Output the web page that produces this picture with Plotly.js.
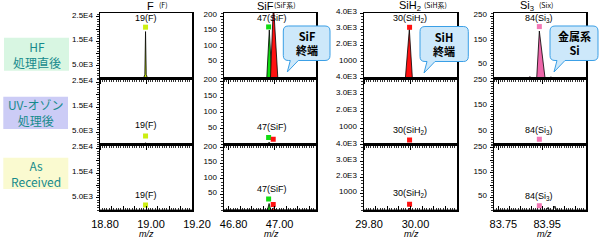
<!DOCTYPE html>
<html><head><meta charset="utf-8">
<script src="https://cdn.plot.ly/plotly-3.0.1.min.js"></script>
<style>html,body{margin:0;padding:0;background:#fff}#chart{width:600px;height:240px}</style>
</head><body><div id="chart"></div>
<script>
// ---------- data ----------
const rowLabels = ['HF<br>処理直後', 'UV-オゾン<br>処理後', 'As<br>Received'];
const rowColors = ['#d8f6e2', '#ccccf6', '#fafad0'];
const colTitles = ['F', 'SiF', 'SiH<sub>2</sub>', 'Si<sub>3</sub>'];
const colSubTitles = ['(F)', '(SiF系)', '(SiH系)', '(Six)'];
const peakLabels = ['19(F)', '47(SiF)', '30(SiH<sub>2</sub>)', '84(Si<sub>3</sub>)'];
const peakLabelX = [18.998, 46.987, 29.998, 83.937];
const xRanges = [[18.80, 19.20], [46.78, 47.18], [29.80, 30.20], [83.73, 84.15]];
const xLabelVals = [[18.80, 19.00, 19.20], [46.80, 47.00], [29.80, 30.00], [83.75, 83.95]];
const xLabelText = [['18.80', '19.00', '19.20'], ['46.80', '47.00'], ['29.80', '30.00'], ['83.75', '83.95']];
const yRanges = [[0, 26600], [0, 210], [0, 4000], [0, 263]];
const yLabelVals = [[5000, 15000, 25000], [50, 100, 150, 200], [1000, 2000, 3000, 4000], [50, 150, 250]];
const yLabelText = [['5.0E3', '1.5E4', '2.5E4'], ['50', '100', '150', '200'], ['1000', '2.0E3', '3.0E3', '4.0E3'], ['50', '150', '250']];
const callouts = ['SiF<br>終端', 'SiH<br>終端', '金属系<br>Si'];

// spectra (row: hf / uv / ar)
const F_hf_x = [18.80, 18.990, 18.995, 18.998, 19.001, 19.006, 19.20];
const F_hf_y = [0, 0, 1500, 19000, 1500, 0, 0];
const F_uv_x = [18.80, 18.993, 18.998, 19.003, 19.20];
const F_uv_y = [0, 0, 800, 0, 0];
const F_ar_x = [18.80, 19.20];
const F_ar_y = [0, 0];

const SiF_hf_g_x = [46.78, 46.966, 46.977, 46.988, 47.18];
const SiF_hf_g_y = [0, 0, 155, 0, 0];
const SiF_hf_r_x = [46.78, 46.982, 46.995, 47.014, 47.18];
const SiF_hf_r_y = [0, 0, 240, 0, 0];
const SiF_uv_g_x = [46.78, 46.970, 46.976, 46.982, 47.18];
const SiF_uv_g_y = [0, 0, 8, 0, 0];
const SiF_uv_r_x = [46.78, 46.988, 46.995, 47.004, 47.18];
const SiF_uv_r_y = [0, 0, 3, 0, 0];
const SiF_ar_g_x = [46.78, 46.969, 46.976, 46.983, 47.18];
const SiF_ar_g_y = [0, 0, 21, 0, 0];
const SiF_ar_r_x = [46.78, 46.986, 46.995, 47.006, 47.18];
const SiF_ar_r_y = [0, 0, 6, 0, 0];

const SiH_hf_x = [29.80, 29.978, 29.995, 30.008, 30.20];
const SiH_hf_y = [0, 0, 3000, 0, 0];
const SiH_uv_x = [29.80, 30.20];
const SiH_uv_y = [0, 0];
const SiH_ar_x = [29.80, 29.992, 29.997, 30.002, 30.20];
const SiH_ar_y = [0, 0, 120, 0, 0];

const Si3_hf_x = [83.73, 83.888, 83.894, 83.900, 83.925, 83.937, 83.963, 83.985, 83.990, 83.995, 84.15];
const Si3_hf_y = [0, 0, 6, 0, 0, 190, 0, 0, 5, 0, 0];
const Si3_uv_x = [83.73, 84.15];
const Si3_uv_y = [0, 0];
const Si3_ar_x = [83.73, 83.971, 83.977, 83.983, 84.000, 84.008, 84.016, 84.15];
const Si3_ar_y = [0, 0, 11, 0, 0, 16, 0, 0];

// reference markers above peaks
const F_mk_x = [18.998], F_mk_y = [20800, 3480, 2040];
const SiF_mk_g_x = [46.974], SiF_mk_g_y = [165, 23, 35];
const SiF_mk_r_x = [46.994], SiF_mk_r_y = [null, 17, 18];
const SiH_mk_x = [29.996], SiH_mk_y = [3120, 280, 350];
const Si3_mk_x = [83.937], Si3_mk_y = [208, 21, 17];

// ---------- layout helpers ----------
const W = 600, H = 240;
const PX = x => x / W, PY = y => 1 - y / H;
const colX = [[100, 192], [224, 316], [364, 457], [494, 586]];
const rowY = [[13, 78], [78, 144.7], [144.7, 210]];
const COL = {yg: '#ccee11', green: '#11dd11', red: '#ff1111', pink: '#f277b4', pinkFill: '#ee66aa'};

const spectra = [
  [[{x: F_hf_x, y: F_hf_y, fill: COL.yg}], [{x: SiF_hf_g_x, y: SiF_hf_g_y, fill: COL.green}, {x: SiF_hf_r_x, y: SiF_hf_r_y, fill: COL.red}], [{x: SiH_hf_x, y: SiH_hf_y, fill: COL.red}], [{x: Si3_hf_x, y: Si3_hf_y, fill: COL.pinkFill}]],
  [[{x: F_uv_x, y: F_uv_y, fill: COL.yg}], [{x: SiF_uv_g_x, y: SiF_uv_g_y, fill: COL.green}, {x: SiF_uv_r_x, y: SiF_uv_r_y, fill: COL.red}], [{x: SiH_uv_x, y: SiH_uv_y, fill: COL.red}], [{x: Si3_uv_x, y: Si3_uv_y, fill: COL.pinkFill}]],
  [[{x: F_ar_x, y: F_ar_y, fill: COL.yg}], [{x: SiF_ar_g_x, y: SiF_ar_g_y, fill: COL.green}, {x: SiF_ar_r_x, y: SiF_ar_r_y, fill: COL.red}], [{x: SiH_ar_x, y: SiH_ar_y, fill: COL.red}], [{x: Si3_ar_x, y: Si3_ar_y, fill: null}]]
];
const markerSets = [
  [{x: F_mk_x, y: F_mk_y, c: COL.yg}],
  [{x: SiF_mk_g_x, y: SiF_mk_g_y, c: COL.green}, {x: SiF_mk_r_x, y: SiF_mk_r_y, c: COL.red}],
  [{x: SiH_mk_x, y: SiH_mk_y, c: COL.red}],
  [{x: Si3_mk_x, y: Si3_mk_y, c: COL.pink}]
];
const xMajorStep = 0.05, xMinor = 0.01;
const yMajorStep = [5000, 50, 1000, 50], yMinor = [1000, 10, 200, 10];
const labelRowY = [[18.3, 18.3, 18.3, 19], [125, 127.3, 130.7, 130.7], [195, 189, 193.3, 196]];

function steps(lo, hi, st) {
  const out = []; const s = Math.ceil(lo / st - 1e-6);
  for (let k = s; k * st <= hi + 1e-9; k++) out.push(+(k * st).toFixed(4));
  return out;
}
function textFor(vals, lv, lt) {
  return vals.map(v => { const j = lv.findIndex(u => Math.abs(u - v) < 1e-6); return j >= 0 ? lt[j] : ''; });
}

const data = [];
const layout = {
  width: W, height: H, margin: {l: 0, r: 0, t: 0, b: 0}, showlegend: false,
  paper_bgcolor: '#fff', plot_bgcolor: '#fff',
  font: {family: 'Liberation Sans, Arial, sans-serif', color: '#000'},
  annotations: [], shapes: []
};

for (let r = 0; r < 3; r++) {
  for (let c = 0; c < 4; c++) {
    const i = r * 4 + c + 1;
    const xs = 'x' + i, ys = 'y' + i;
    const xv = steps(xRanges[c][0], xRanges[c][1], xMajorStep);
    const yv = steps(yRanges[c][0], yRanges[c][1], yMajorStep[c]).filter(v => v > 0);
    const tdir = r === 2 ? 'inside' : 'outside';
    layout['xaxis' + i] = {
      domain: [PX(colX[c][0]), PX(colX[c][1])], range: xRanges[c], anchor: ys,
      showline: true, mirror: true, linecolor: '#000', linewidth: 1.5,
      showgrid: false, zeroline: false, fixedrange: true,
      tickmode: 'array', tickvals: xv, ticktext: textFor(xv, xLabelVals[c], xLabelText[c]),
      showticklabels: r === 2, ticks: tdir, ticklen: 4, tickwidth: 1, tickcolor: '#000',
      minor: {dtick: xMinor, tick0: 0, ticks: tdir, ticklen: 2, tickwidth: 0.8, tickcolor: '#000'},
      tickfont: {size: 11}, ticklabelshift: 5, ticklabelstandoff: 3
    };
    layout['yaxis' + i] = {
      domain: [PY(rowY[r][1]), PY(rowY[r][0])], range: yRanges[c], anchor: xs,
      showline: true, mirror: true, linecolor: '#000', linewidth: 1.5,
      showgrid: false, zeroline: false, fixedrange: true,
      tickmode: 'array', tickvals: yv, ticktext: textFor(yv, yLabelVals[c], yLabelText[c]),
      ticks: 'outside', ticklen: 3, tickwidth: 1, tickcolor: '#000',
      minor: {dtick: yMinor[c], tick0: 0, ticks: 'outside', ticklen: 2, tickwidth: 0.8, tickcolor: '#000'},
      tickfont: {size: 8}, ticklabelshift: -2, ticklabelstandoff: 1
    };
    spectra[r][c].forEach(s => {
      data.push({
        type: 'scatter', mode: 'lines', x: s.x, y: s.y, xaxis: xs, yaxis: ys,
        line: {color: '#000', width: 0.8},
        fill: s.fill ? 'tozeroy' : 'none', fillcolor: s.fill || 'rgba(0,0,0,0)', hoverinfo: 'skip'
      });
    });
    markerSets[c].forEach(m => {
      if (m.y[r] === null) return;
      data.push({
        type: 'scatter', mode: 'markers', x: m.x, y: [m.y[r]], xaxis: xs, yaxis: ys,
        marker: {symbol: 'square', size: 5, color: m.c, line: {width: 0}}, hoverinfo: 'skip'
      });
    });
    layout.annotations.push({
      xref: xs, yref: 'paper', x: peakLabelX[c], y: PY(labelRowY[r][c]),
      text: peakLabels[c], showarrow: false, xanchor: 'center', yanchor: 'middle',
      font: {size: 9, color: '#000'}
    });
  }
}

// column titles
const titleMainX = [145, 255, 397, 518], titleSubX = [157, 272, 422, 537];
for (let c = 0; c < 4; c++) {
  layout.annotations.push({xref: 'paper', yref: 'paper', x: PX(titleMainX[c]), y: PY(6), xanchor: 'left', yanchor: 'middle',
    text: colTitles[c], showarrow: false, font: {size: 11, color: '#000'}});
  layout.annotations.push({xref: 'paper', yref: 'paper', x: PX(titleSubX[c]), y: PY(5), xanchor: 'left', yanchor: 'middle',
    text: colSubTitles[c], showarrow: false, font: {size: 7, color: '#000', family: 'Noto Sans CJK JP, sans-serif'}});
}
// m/z titles
const mzX = [146.7, 271.7, 411, 544];
mzX.forEach(x => layout.annotations.push({xref: 'paper', yref: 'paper', x: PX(x), y: PY(233.5), xanchor: 'center', yanchor: 'middle',
  text: '<i>m/z</i>', showarrow: false, font: {size: 9, color: '#000'}}));

// row label boxes
const rowBox = [[4, 37.7, 69, 70.7], [3.3, 96.7, 68, 129], [3.3, 157.7, 68.3, 189]];
rowBox.forEach((b, r) => {
  layout.shapes.push({type: 'rect', xref: 'paper', yref: 'paper', x0: PX(b[0]), x1: PX(b[2]), y0: PY(b[3]), y1: PY(b[1]),
    fillcolor: rowColors[r], line: {width: 0}, layer: 'below'});
  layout.annotations.push({xref: 'paper', yref: 'paper', x: PX((b[0] + b[2]) / 2), y: PY((b[1] + b[3]) / 2),
    xanchor: 'center', yanchor: 'middle', text: rowLabels[r], showarrow: false,
    font: {size: 12, color: '#168a8c', family: 'Noto Sans CJK JP, sans-serif'}});
});

// callouts
const callBox = [[283.3, 26, 330, 60.5], [420, 26.5, 468.3, 61.5], [550, 26, 598, 60.5]];
function P(x, y) { return PX(x).toFixed(5) + ',' + PY(y).toFixed(5); }
callBox.forEach((b, k) => {
  const [l, t, R, B] = b, rr = 5, tipY = B + 11.5;
  const path = 'M' + P(l + rr, t) + ' L' + P(R - rr, t) + ' Q' + P(R, t) + ' ' + P(R, t + rr) +
    ' L' + P(R, B - rr) + ' Q' + P(R, B) + ' ' + P(R - rr, B) + ' L' + P(l + 15, B) +
    ' L' + P(l + 4, tipY) + ' L' + P(l + 7, B) + ' L' + P(l + rr, B) + ' Q' + P(l, B) + ' ' + P(l, B - rr) +
    ' L' + P(l, t + rr) + ' Q' + P(l, t) + ' ' + P(l + rr, t) + ' Z';
  layout.shapes.push({type: 'path', xref: 'paper', yref: 'paper', path: path,
    fillcolor: '#cde8fa', line: {color: '#3a9fe6', width: 1}, layer: 'above'});
  layout.annotations.push({xref: 'paper', yref: 'paper', x: PX((l + R) / 2), y: PY((t + B) / 2),
    xanchor: 'center', yanchor: 'middle', text: '<b>' + callouts[k] + '</b>', showarrow: false,
    font: {size: 11, color: '#000', family: 'Noto Sans CJK JP, sans-serif'}});
});

Plotly.newPlot('chart', data, layout, {staticPlot: true, displayModeBar: false});
</script></body></html>
